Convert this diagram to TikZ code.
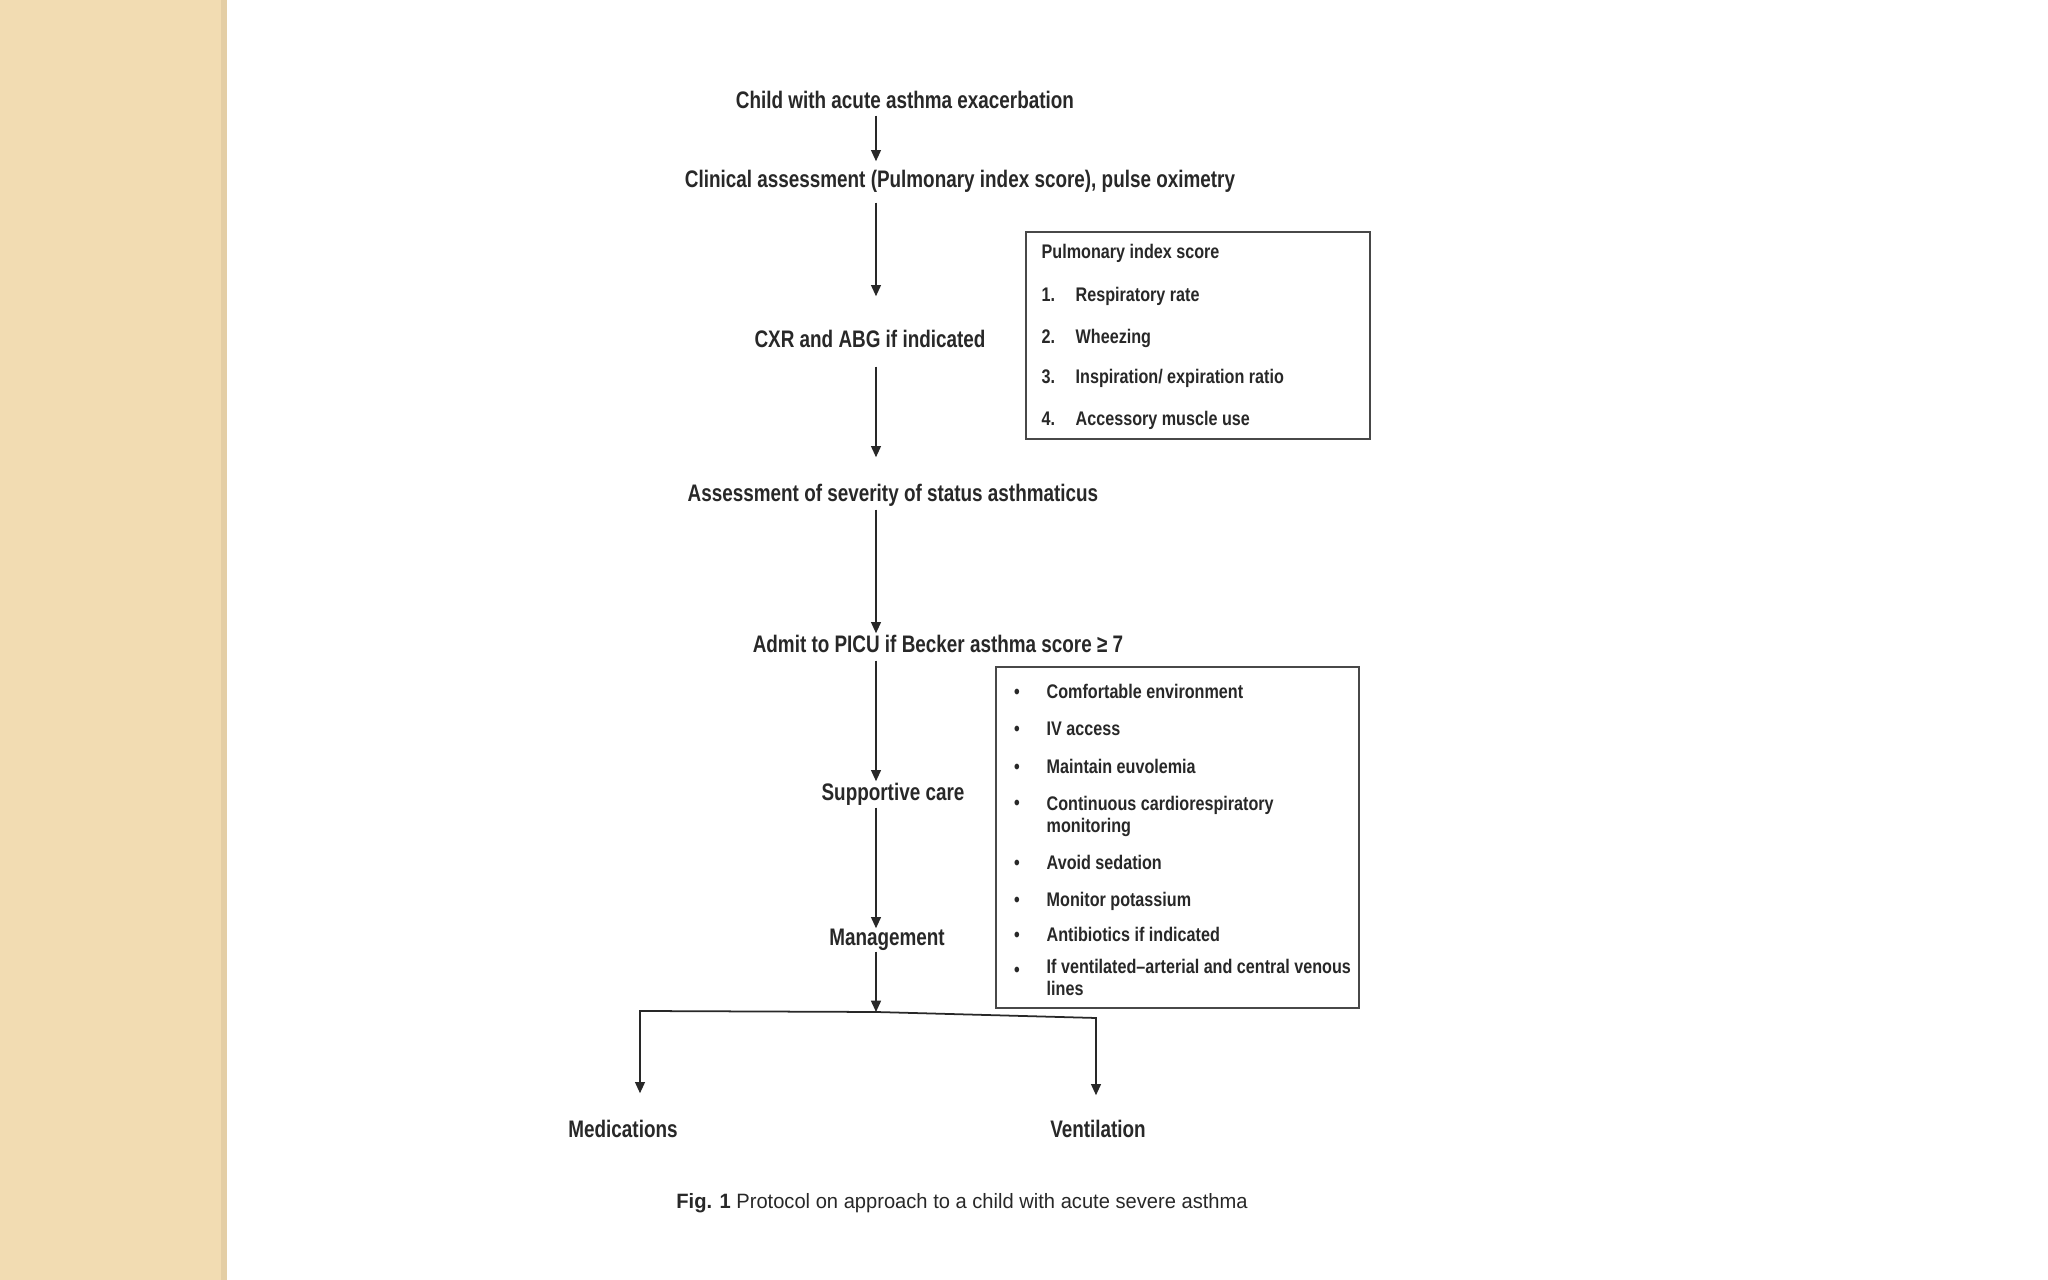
\documentclass[tikz,border=0pt]{standalone}
\usepackage{fontspec}
\setmainfont{Liberation Sans}
\newfontfamily\narrowfont[FakeStretch=0.82]{Liberation Sans}
\newfontfamily\labelfont[FakeStretch=0.79]{Liberation Sans}
\newfontfamily\capfont[FakeStretch=0.97]{Liberation Sans}
\usetikzlibrary{arrows.meta, positioning, calc}
\definecolor{beige}{RGB}{242,220,178}
\definecolor{beigeedge}{RGB}{228,206,165}
\definecolor{ink}{RGB}{40,40,40}

\begin{document}
\begin{tikzpicture}[
  x=0.01cm, y=-0.01cm,
  lbl/.style={inner sep=0pt, text height=0.17cm, text depth=0.05cm, text=ink,
    font=\labelfont\bfseries\fontsize{6.8}{8}\selectfont},
  itm/.style={inner sep=0pt, anchor=base west, align=left, text=ink,
    font=\narrowfont\bfseries\fontsize{5.6}{6.3}\selectfont},
  infobox/.style={draw=ink!85, line width=0.6pt, inner sep=0pt},
  arr/.style={-{Triangle[length=3.2pt,width=2.8pt]}, line width=0.5pt, draw=ink}
]
\useasboundingbox (0,0) rectangle (2048,1280);
\fill[white] (0,0) rectangle (2048,1280);
\fill[beige] (0,0) rectangle (227,1280);
\fill[beigeedge] (221,0) rectangle (227,1280);

% Main flow
\node[lbl] (child) at (905,103) {Child with acute asthma exacerbation};
\node[lbl] (clin)  at (960,182) {Clinical assessment (Pulmonary index score), pulse oximetry};
\node[lbl] (cxr)   at (870,342) {CXR and ABG if indicated};
\node[lbl] (sev)   at (893,496) {Assessment of severity of status asthmaticus};
\node[lbl] (admit) at (938,647) {Admit to PICU if Becker asthma score ≥ 7};
\node[lbl] (supp)  at (893,795) {Supportive care};
\node[lbl] (mgmt)  at (887,940) {Management};
\node[lbl] (meds)  at (623,1131) {Medications};
\node[lbl] (vent)  at (1098,1132) {Ventilation};

\node[inner sep=0pt, text=ink, font=\capfont\fontsize{5.9}{7}\selectfont] (cap) at (962,1203)
  {\textbf{Fig. 1} Protocol on approach to a child with acute severe asthma};

% Pulmonary index box
\node[infobox, minimum width=3.44cm, minimum height=2.07cm] (pisbox) at (1198,335.5) {};
\node[itm] (pistitle) at (1041,259) {Pulmonary index score};
\foreach \y/\n/\txt [count=\i] in {302/1./Respiratory rate, 344/2./Wheezing,
    384/3./{Inspiration/ expiration ratio}, 426/4./Accessory muscle use} {
  \node[itm] (pisnum\i) at (1041,\y) {\n};
  \node[itm] (pis\i) at (1075,\y) {\txt};
}

% Supportive care box (second value: baseline of the last line)
\node[infobox, minimum width=3.63cm, minimum height=3.41cm] (carebox) at (1177.5,837.5) {};
\foreach \y/\yl/\txt [count=\i] in {699/699/Comfortable environment, 736/736/IV access,
    774/774/Maintain euvolemia, 810/833/{Continuous cardiorespiratory\\monitoring},
    870/870/Avoid sedation, 907/907/Monitor potassium, 942/942/Antibiotics if indicated,
    977/996/{If ventilated–arterial and central venous\\lines}} {
  \node[itm, anchor=base] (bul\i) at (1017,\y) {\textbullet};
  \node[itm] (care\i) at (1046,\yl) {\txt};
}

% Arrows
\coordinate (spine) at (876,0);
\coordinate (jn) at (876,1012);
\coordinate (jl) at (640,1011);
\coordinate (jr) at (1096,1018);

\draw[arr, shorten <=0.01cm, shorten >=0.09cm] (child.south -| spine) -- (clin.north -| spine);
\draw[arr, shorten <=0.09cm, shorten >=0.34cm] (clin.south -| spine) -- (cxr.north -| spine);
\draw[arr, shorten <=0.13cm, shorten >=0.27cm] (cxr.south -| spine) -- (sev.north -| spine);
\draw[arr, shorten <=0.02cm, shorten >=0.02cm] (sev.south -| spine) -- (admit.north -| spine);
\draw[arr, shorten <=0.02cm, shorten >=0.02cm] (admit.south -| spine) -- (supp.north -| spine);
\draw[arr, shorten <=0.01cm] (supp.south -| spine) -- (mgmt.north -| spine);
\draw[arr] (mgmt.south -| spine) -- (jn);
\draw[arr, shorten >=0.26cm] (jn) -- (jl) -- (meds.north -| jl);
\draw[arr, shorten >=0.25cm] (jn) -- (jr) -- (vent.north -| jr);
\end{tikzpicture}
\end{document}
